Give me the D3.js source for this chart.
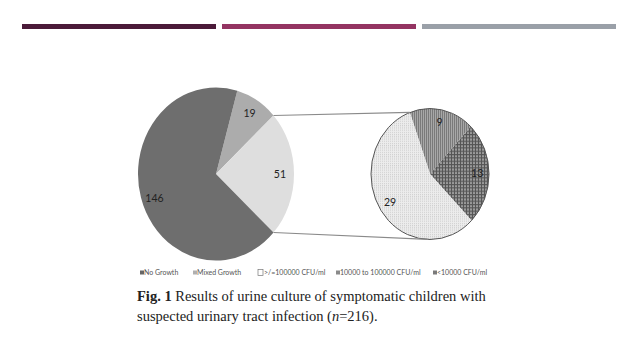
<!DOCTYPE html>
<html>
<head>
<meta charset="utf-8">
<script src="https://cdn.jsdelivr.net/npm/d3@7"></script>
<style>
  body { margin: 0; background: #fff; }
  svg { display: block; }
</style>
</head>
<body>
<svg id="chart" width="638" height="359"></svg>
<script>
// data
const mainCategories = ["Mixed Growth", ">/=100000 CFU/ml", "No Growth"];
const mainValues = [19, 51, 146];
const subCategories = ["<10000 CFU/ml", "10000 to 100000 CFU/ml", ">/=100000 CFU/ml (split)"];
const subValues = [9, 13, 29];
const legendLabels = ["No Growth", "Mixed Growth", ">/=100000 CFU/ml", "10000 to 100000 CFU/ml", "<10000 CFU/ml"];
const captionBold = "Fig. 1";
const captionLine1 = " Results of urine culture of symptomatic children with";
const captionLine2a = "suspected urinary tract infection (";
const captionLine2b = "n";
const captionLine2c = "=216).";

const svg = d3.select("#chart");
const deg = Math.PI / 180;
const sy = 1.11; // picture is a bit stretched vertically

// header bars of the slide
const barColors = ["#4b1a39", "#943462", "#9aa0a8"];
svg.selectAll(".hbar")
  .data(barColors)
  .join("rect")
  .attr("class", "hbar")
  .attr("x", (d, i) => 22 + i * 200)
  .attr("y", 24)
  .attr("width", 194)
  .attr("height", 5)
  .attr("fill", d => d);

// patterns for the split pie
const defs = svg.append("defs");
const pv = defs.append("pattern").attr("id", "vlines").attr("patternUnits", "userSpaceOnUse").attr("width", 2).attr("height", 2);
pv.append("rect").attr("width", 2).attr("height", 2).attr("fill", "#a8a8a8");
pv.append("rect").attr("width", 1).attr("height", 2).attr("fill", "#7a7a7a");
const px = defs.append("pattern").attr("id", "cross").attr("patternUnits", "userSpaceOnUse").attr("width", 3).attr("height", 3);
px.append("rect").attr("width", 3).attr("height", 3).attr("fill", "#9a9a9a");
px.append("rect").attr("width", 1).attr("height", 3).attr("fill", "#555");
px.append("rect").attr("width", 3).attr("height", 1).attr("fill", "#555");
const pd = defs.append("pattern").attr("id", "dots").attr("patternUnits", "userSpaceOnUse").attr("width", 2).attr("height", 2);
pd.append("rect").attr("width", 2).attr("height", 2).attr("fill", "#ececec");
pd.append("rect").attr("width", 1).attr("height", 1).attr("fill", "#cfcfcf");

// main pie
const mainCx = 216, mainCy = 174, mainR = 78;
const mainColor = d3.scaleOrdinal().domain(mainCategories).range(["#acacac", "#dedede", "#6e6e6e"]);
const mainStart = 90 * deg - (mainValues[1] / d3.sum(mainValues)) * Math.PI; // 51 slice centred at 3 o'clock
const mainPie = d3.pie().sort(null).startAngle(mainStart - (mainValues[0] / d3.sum(mainValues)) * 2 * Math.PI)
  .endAngle(mainStart - (mainValues[0] / d3.sum(mainValues)) * 2 * Math.PI + 2 * Math.PI);
const mainArcs = mainPie(mainValues.map((v, i) => ({cat: mainCategories[i], v})).map(d => d.v))
  .map((a, i) => Object.assign(a, {cat: mainCategories[i]}));
const mainArc = d3.arc().innerRadius(0).outerRadius(mainR);

svg.append("g")
  .attr("transform", `translate(${mainCx},${mainCy}) scale(1,${sy})`)
  .selectAll("path")
  .data(mainArcs)
  .join("path")
  .attr("d", mainArc)
  .attr("fill", d => mainColor(d.cat));

// split pie
const subCx = 430, subCy = 174, subR = 59;
const subFill = d3.scaleOrdinal().domain(subCategories).range(["url(#vlines)", "url(#cross)", "url(#dots)"]);
const subStart = -20 * deg;
const subArcs = d3.pie().sort(null).startAngle(subStart).endAngle(subStart + 2 * Math.PI)(subValues)
  .map((a, i) => Object.assign(a, {cat: subCategories[i]}));
const subArc = d3.arc().innerRadius(0).outerRadius(subR);

const subG = svg.append("g").attr("transform", `translate(${subCx},${subCy}) scale(1,${sy})`);
subG.selectAll("path")
  .data(subArcs)
  .join("path")
  .attr("d", subArc)
  .attr("fill", d => subFill(d.cat));
subG.append("circle").attr("r", subR).attr("fill", "none").attr("stroke", "#555").attr("stroke-width", 1)
  .attr("vector-effect", "non-scaling-stroke");

// connector lines from the 51 slice to the split pie
const pt = (cx, cy, r, a) => [cx + r * Math.sin(a), cy - r * Math.cos(a) * sy];
const split = mainArcs[1];
const lines = [
  [pt(mainCx, mainCy, mainR, split.startAngle), pt(subCx, subCy, subR, subStart)],
  [pt(mainCx, mainCy, mainR, split.endAngle), pt(subCx, subCy, subR, 182 * deg)]
];
svg.selectAll(".conn")
  .data(lines)
  .join("line")
  .attr("class", "conn")
  .attr("x1", d => d[0][0]).attr("y1", d => d[0][1])
  .attr("x2", d => d[1][0]).attr("y2", d => d[1][1])
  .attr("stroke", "#8a8a8a")
  .attr("stroke-width", 1.2);

// value labels
function labelPos(cx, cy, r, a) {
  const mid = (a.startAngle + a.endAngle) / 2;
  return pt(cx, cy, r, mid);
}
const labelFont = "Lato, 'Open Sans', sans-serif";
svg.selectAll(".mlab")
  .data(mainArcs)
  .join("text")
  .attr("class", "mlab")
  .attr("x", d => labelPos(mainCx, mainCy, mainR * 0.82, d)[0])
  .attr("y", d => labelPos(mainCx, mainCy, mainR * 0.82, d)[1] + (d.value > 100 ? 5 : 0))
  .attr("dy", "0.35em")
  .attr("text-anchor", "middle")
  .attr("font-family", labelFont)
  .attr("font-size", 10.5)
  .attr("fill", "#222")
  .text(d => d.value);

svg.selectAll(".slab")
  .data(subArcs)
  .join("text")
  .attr("class", "slab")
  .attr("x", d => labelPos(subCx, subCy, subR * 0.8, d)[0])
  .attr("y", d => labelPos(subCx, subCy, subR * 0.8, d)[1])
  .attr("dy", "0.35em")
  .attr("text-anchor", "middle")
  .attr("font-family", labelFont)
  .attr("font-size", 10.5)
  .attr("fill", "#222")
  .text(d => d.value);

// legend
const legendX = [140, 193, 258, 336, 433];
const legendSwatch = ["#666", "#b0b0b0", "#fff", "#8a8a8a", "#7a7a7a"];
const leg = svg.selectAll(".leg")
  .data(legendLabels)
  .join("g")
  .attr("class", "leg")
  .attr("transform", (d, i) => `translate(${legendX[i]},273)`);
leg.append("rect")
  .attr("x", (d, i) => i === 2 ? 0 : 0)
  .attr("y", (d, i) => i === 2 ? -3.5 : -2.5)
  .attr("width", (d, i) => i === 2 ? 5 : 4)
  .attr("height", (d, i) => i === 2 ? 6 : 4)
  .attr("fill", (d, i) => legendSwatch[i])
  .attr("stroke", (d, i) => i === 2 ? "#777" : "none")
  .attr("stroke-width", 0.7);
leg.append("text")
  .attr("x", (d, i) => i === 2 ? 6 : 4)
  .attr("y", 0)
  .attr("dy", "0.33em")
  .attr("font-family", labelFont)
  .attr("font-size", 7)
  .attr("fill", "#555")
  .text(d => d);

// caption
const cap = svg.append("g").attr("font-family", "'Liberation Serif', 'Times New Roman', serif")
  .attr("font-size", 14.5).attr("fill", "#222");
const t1 = cap.append("text").attr("x", 137).attr("y", 301);
t1.append("tspan").attr("font-weight", "bold").text(captionBold);
t1.append("tspan").text(captionLine1);
const t2 = cap.append("text").attr("x", 137).attr("y", 321);
t2.append("tspan").text(captionLine2a);
t2.append("tspan").attr("font-style", "italic").text(captionLine2b);
t2.append("tspan").text(captionLine2c);
</script>
</body>
</html>
